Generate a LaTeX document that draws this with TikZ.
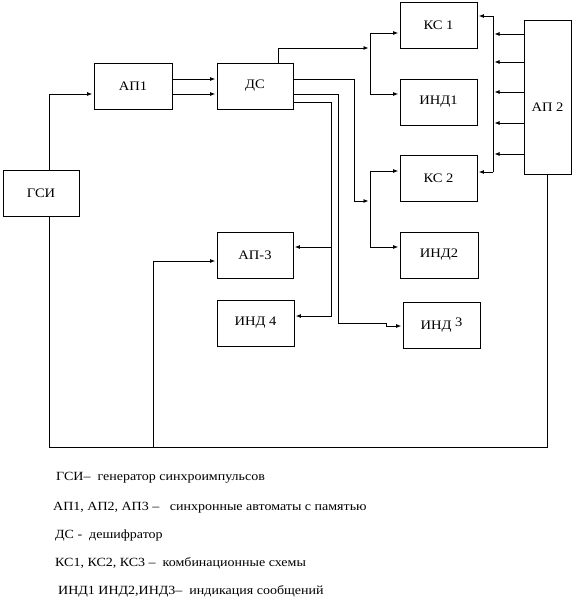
\documentclass[tikz,border=0pt]{standalone}
\usepackage{fontspec}
\setmainfont{Liberation Serif}[FakeStretch=1.12]
\usetikzlibrary{arrows.meta, calc}

\begin{document}
\begin{tikzpicture}[
    x=1pt, y=-1pt,
    blk/.style={rectangle, draw, line width=0.8pt, minimum width=77pt, minimum height=46pt, inner sep=0pt, font=\fontsize{13}{15}\selectfont},
    arrow/.style={-{Latex[length=5pt, width=4pt]}, line width=0.8pt, shorten >=1.5pt},
    wire/.style={line width=0.8pt},
    legend/.style={anchor=west, inner sep=0pt, font=\fontsize{12.5}{14}\selectfont},
]
\useasboundingbox (0,0) rectangle (572,610);

% Generator
\node[blk, minimum width=76pt] (gsi) at (41,193) {ГСИ};

% First automaton and decoder
\node[blk, minimum width=78pt] (ap1) at (133,86) {АП1};
\node[blk, minimum width=76pt] (ds) at (255,86) {ДС};

% Right column
\node[blk] (ks1) at (438.5,25) {КС 1};
\node[blk] (ind1) at (438.5,102) {ИНД1};
\node[blk] (ks2) at (438.5,178) {КС 2};
\node[blk, minimum width=78pt] (ind2) at (439,255) {ИНД2};
\node[blk] (ind3) at (441.5,325) {ИНД \raisebox{2.5pt}{3}};

% Lower middle
\node[blk, minimum width=76pt] (ap3) at (255,255) {АП-3};
\node[blk] (ind4) at (255.5,323) {ИНД 4};

% Second automaton
\node[blk, minimum width=47pt, minimum height=154pt,
      label={[yshift=-10pt, font=\fontsize{13}{15}\selectfont]center:АП 2}] (ap2) at (547.5,97) {};

% Bus points
\coordinate (b1) at (370,48);
\coordinate (b2) at (370,201);
\coordinate (b3) at (331,316);
\coordinate (b4) at (493,0);
\coordinate (gx) at (49,447);
\coordinate (gb) at (153,447);
\coordinate (k1in) at ($(ks1.west)+(0,8)$);
\coordinate (i1in) at ($(ind1.west)+(0,-8)$);
\coordinate (k2in) at ($(ks2.west)+(0,-7)$);
\coordinate (i2in) at ($(ind2.west)+(0,-8)$);
\coordinate (i3in) at ($(ind3.west)+(0,1)$);
\coordinate (a3r) at ($(ap3.east)+(0,-8)$);
\coordinate (a3l) at ($(ap3.west)+(0,6)$);
\coordinate (k1out) at ($(ks1.east)+(0,-9)$);
\coordinate (k2out) at ($(ks2.east)+(0,-6)$);

% GSI to AP1
\draw[arrow] (gsi.north -| gx) |- ($(ap1.west)+(0,8)$);

% AP1 to DS
\draw[arrow] ($(ap1.east)+(0,-7)$) -- ($(ds.west)+(0,-7)$);
\draw[arrow] ($(ap1.east)+(0,8)$) -- ($(ds.west)+(0,8)$);

% DS to KS1 and IND1
\draw[arrow] ($(ds.north)+(23,0)$) |- (b1);
\draw[arrow] (b1 |- i1in) |- (k1in);
\draw[arrow] (b1 |- i1in) -- (i1in);

% DS to KS2 and IND2
\draw[arrow] ($(ds.east)+(0,-7)$) -| ($(b2)+(-16,0)$) -- (b2);
\draw[arrow] (b2 |- i2in) |- (k2in);
\draw[arrow] (b2 |- i2in) -- (i2in);

% DS to IND3
\draw[arrow] ($(ds.east)+(0,8)$) -| ($(i3in)+(-64,-3)$) -- ($(i3in)+(-16,-3)$) -- ($(i3in)+(-16,0)$) -- (i3in);

% DS to AP-3 and IND4
\draw[arrow] ($(ds.east)+(0,16)$) -| (b3) -- (ind4.east |- b3);
\draw[arrow] (b3 |- a3r) -- (a3r);

% AP2 to KS1 and KS2
\foreach \dy in {-63,-35,-5,26,57}
    \draw[arrow] ($(ap2.west)+(0,\dy)$) -- ($(ap2.west -| b4)+(0,\dy)$);
\draw[arrow] (b4 |- k2out) |- (k1out);
\draw[arrow] (b4 |- k2out) -- (k2out);

% Sync loop
\draw[wire] (gsi.south -| gx) -- (gx) -| (ap2.south);
\draw[arrow] (gb) |- (a3l);

% Legend
\node[legend] (leg1) at (56,478) {ГСИ–\ \ генератор синхроимпульсов};
\node[legend] (leg2) at (53,508) {АП1, АП2, АП3 –\ \ \ синхронные автоматы с памятью};
\node[legend] (leg3) at (55,535) {ДС -\ \ дешифратор};
\node[legend] (leg4) at (55,563) {КС1, КС2, КС3 –\ \ комбинационные схемы};
\node[legend] (leg5) at (58,591) {ИНД1 ИНД2,ИНД3–\ \ индикация сообщений};

\end{tikzpicture}
\end{document}
